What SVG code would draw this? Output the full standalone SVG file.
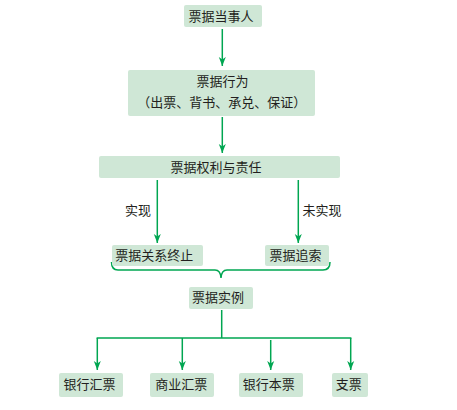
<svg xmlns="http://www.w3.org/2000/svg" width="457" height="410" viewBox="0 0 457 410">
<defs>
<marker id="arr" markerUnits="userSpaceOnUse" markerWidth="10" markerHeight="8" refX="9" refY="4" orient="auto" viewBox="0 0 10 8">
<path d="M0,0.5 L9,4 L0,7.5 L2.5,4 Z" fill="#00a651"/>
</marker>
<style>
.box{fill:#cfe7d6;}
.t{font-family:"Noto Sans CJK SC","Noto Sans",sans-serif;font-size:13px;fill:#231f20;text-anchor:middle;}
.c{fill:none;stroke:#00a651;stroke-width:1.5;}
</style>
</defs>
<rect width="457" height="410" fill="#ffffff"/>
<g id="connectors">
<line class="c" x1="222.3" y1="29" x2="222.3" y2="66" marker-end="url(#arr)"/>
<line class="c" x1="222.3" y1="117" x2="222.3" y2="153" marker-end="url(#arr)"/>
<line class="c" x1="157.3" y1="180" x2="157.3" y2="243" marker-end="url(#arr)"/>
<line class="c" x1="298.3" y1="180" x2="298.3" y2="243" marker-end="url(#arr)"/>
<path class="c" d="M111.5,262 Q111.5,270 118,270 L215,270 Q220.5,270 221,278 Q221.5,270 227,270 L323,270 Q330,270 330,262"/>
<path class="c" d="M221.7,310 V338 M96.6,338 H351.4"/>
<line class="c" x1="97.3" y1="338" x2="97.3" y2="370" marker-end="url(#arr)"/>
<line class="c" x1="182.3" y1="338" x2="182.3" y2="370" marker-end="url(#arr)"/>
<line class="c" x1="270.7" y1="340" x2="270.7" y2="370" marker-end="url(#arr)"/>
<line class="c" x1="350.7" y1="338" x2="350.7" y2="370" marker-end="url(#arr)"/>
<text class="t" x="138" y="215">实现</text>
<text class="t" x="322" y="215">未实现</text>
</g>
<g id="n1"><rect class="box" x="184" y="5" width="78" height="22" rx="2"/><text class="t" x="221" y="21">票据当事人</text></g>
<g id="n2"><rect class="box" x="128" y="70" width="187" height="46" rx="2"/><text class="t" x="222.5" y="86">票据行为</text><text class="t" x="221.7" y="107">（出票、背书、承兑、保证）</text></g>
<g id="n3"><rect class="box" x="99" y="156" width="241" height="22" rx="2"/><text class="t" x="216" y="172">票据权利与责任</text></g>
<g id="n4"><rect class="box" x="112" y="245" width="91" height="21" rx="2"/><text class="t" x="154.2" y="259.5">票据关系终止</text></g>
<g id="n5"><rect class="box" x="265" y="245" width="64" height="21" rx="2"/><text class="t" x="295.5" y="259.5">票据追索</text></g>
<g id="n6"><rect class="box" x="189" y="287" width="64" height="22" rx="2"/><text class="t" x="218" y="302">票据实例</text></g>
<g id="n7"><rect class="box" x="59" y="373" width="64" height="24" rx="2"/><text class="t" x="89.5" y="389">银行汇票</text></g>
<g id="n8"><rect class="box" x="150" y="373" width="64" height="24" rx="2"/><text class="t" x="181.2" y="389">商业汇票</text></g>
<g id="n9"><rect class="box" x="239" y="373" width="64" height="24" rx="2"/><text class="t" x="268.7" y="389">银行本票</text></g>
<g id="n10"><rect class="box" x="332" y="373" width="36" height="24" rx="2"/><text class="t" x="348.8" y="389">支票</text></g>
</svg>
